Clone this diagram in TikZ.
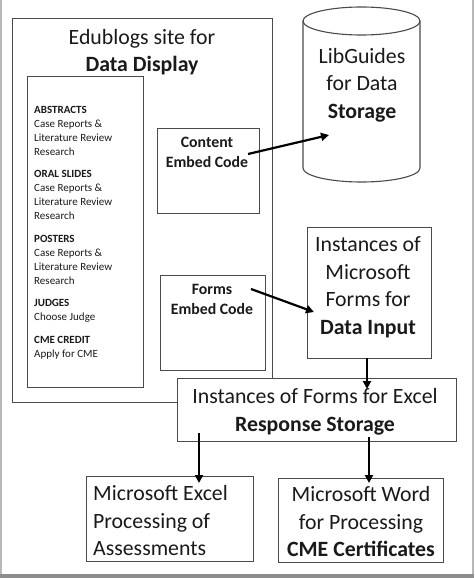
\documentclass[tikz,border=0pt]{standalone}
\usepackage{fontspec}
\setmainfont{Carlito}
\usetikzlibrary{arrows.meta}
\definecolor{boxc}{HTML}{4A4A4A}
\definecolor{txt}{HTML}{1A1A1A}
\definecolor{frame}{HTML}{B8B8B8}
\definecolor{framed}{HTML}{8C8C8C}
\begin{document}
\begin{tikzpicture}[x=1pt,y=-1pt,
  box/.style={draw=boxc, line width=1.1pt, inner sep=0pt, fill=white, anchor=north west},
  arr/.style={draw=black, line width=2.2pt, -{Triangle[length=8pt,width=8pt]}},
  big/.style={font=\fontsize{21.8}{27.5}\selectfont, align=center, text=txt, inner sep=0pt},
  mid/.style={font=\fontsize{15.8}{20}\selectfont\bfseries, align=center, text=txt, inner sep=0pt},
  small/.style={font=\fontsize{11}{14}\selectfont, align=left, text=txt, inner sep=0pt, anchor=north west}]
\useasboundingbox (0,0) rectangle (474,578);
\fill[white] (0,0) rectangle (474,578);
% outer frame
\fill[frame] (0,0) rectangle (2,578);
\fill[frame] (472,0) rectangle (474,578);
\fill[framed] (0,574) rectangle (474,578);
% boxes
\node[box, minimum width=260pt, minimum height=384pt] (edu) at (12,18) {};
\node[box, minimum width=116pt, minimum height=311pt] (list) at (27,76) {};
\node[box, minimum width=102pt, minimum height=85pt] (content) at (157,128) {};
\node[box, minimum width=105pt, minimum height=95pt] (forms) at (160,275) {};
\node[box, minimum width=124pt, minimum height=131pt] (inst) at (307,227) {};
\node[box, minimum width=279pt, minimum height=63pt] (resp) at (177,378) {};
\node[box, minimum width=167pt, minimum height=85pt] (excel) at (86,476) {};
\node[box, minimum width=165pt, minimum height=84pt] (word) at (278,478) {};
% cylinder
\draw[boxc, line width=1.1pt, fill=white] (303,21) -- (303,168) arc[start angle=180, end angle=360, x radius=58.5pt, y radius=14pt] -- (420,21);
\draw[boxc, line width=1.1pt] (361.5,21) ellipse[x radius=58.5pt, y radius=14pt];
\coordinate (cyl) at (361.5,100);
% texts
\node[big] (edut) at (142,52) {Edublogs site for\\\textbf{Data Display}};
\node[big] (libt) at (362,85) {LibGuides\\for Data\\\textbf{Storage}};
\node[mid] (contt) at (207,152) {Content\\Embed Code};
\node[mid] (formt) at (212,299) {Forms\\Embed Code};
\node[big] (instt) at (368,287) {Instances of\\Microsoft\\Forms for\\\textbf{Data Input}};
\node[big] (respt) at (315,412) {Instances of Forms for Excel\\\textbf{Response Storage}};
\node[big, align=left, anchor=west] (excelt) at (93,521) {Microsoft Excel\\Processing of\\Assessments};
\node[big] (wordt) at (361,522) {Microsoft Word\\for Processing\\\textbf{CME Certificates}};
\node[small] (listt) at (34,106) {\textbf{ABSTRACTS}\\Case Reports \&\\Literature Review\\Research\\[8.5pt]
\textbf{ORAL SLIDES}\\Case Reports \&\\Literature Review\\Research\\[8.5pt]
\textbf{POSTERS}\\Case Reports \&\\Literature Review\\Research\\[8.5pt]
\textbf{JUDGES}\\Choose Judge\\[8.5pt]
\textbf{CME CREDIT}\\Apply for CME};
% arrow end points
\coordinate (a1s) at (248,154); \coordinate (a1e) at (329,135);
\coordinate (a2s) at (251,289); \coordinate (a2e) at (314,312);
\coordinate (a3s) at (367,358); \coordinate (a3e) at (367,389);
\coordinate (a4s) at (199,433); \coordinate (a4e) at (199,483);
\coordinate (a5s) at (369,437); \coordinate (a5e) at (369,483);
\draw[arr] (a1s) -- (a1e);
\draw[arr] (a2s) -- (a2e);
\draw[arr] (a3s) -- (a3e);
\draw[arr] (a4s) -- (a4e);
\draw[arr] (a5s) -- (a5e);
\end{tikzpicture}
\end{document}
